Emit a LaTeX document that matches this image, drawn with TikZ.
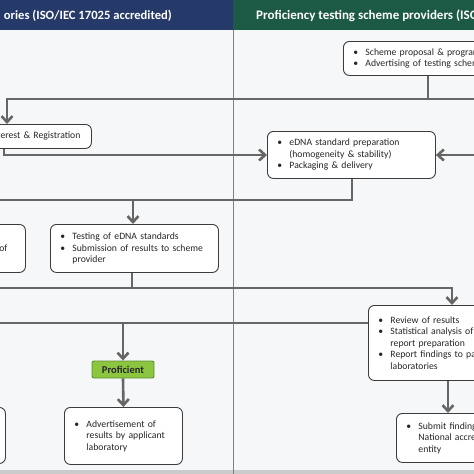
\documentclass[tikz,border=0pt]{standalone}
\usepackage{fontspec}
\setmainfont{Carlito}
\usetikzlibrary{arrows.meta}
\definecolor{hblue}{HTML}{263A6A}
\definecolor{hgreen}{HTML}{1C5A46}
\definecolor{bgc}{HTML}{F6F7F9}
\definecolor{conc}{HTML}{666666}
\definecolor{boxc}{HTML}{3C3C3C}
\definecolor{pgreen}{HTML}{8CC540}
\definecolor{pgreend}{HTML}{5E8F2E}
\definecolor{bandc}{HTML}{CBCBCB}
\definecolor{divc}{HTML}{808080}
\newcommand\bitem{\makebox[12pt][l]{\textbullet}}
\newcommand\bind{\hspace*{12pt}}
\begin{document}
\begin{tikzpicture}[x=1pt,y=-1pt,
 box/.style={draw=boxc, fill=white, rounded corners=6pt, line width=0.9pt, anchor=north west, inner xsep=10pt, inner ysep=0pt, align=left, font=\fontsize{9.7}{11.5}\selectfont, text=black!85},
 conn/.style={draw=conc, line width=2.6pt},
 arr/.style={-{Straight Barb[length=6pt,width=11pt]}},
 hdr/.style={text=white, inner sep=0pt}]
\useasboundingbox (0,0) rectangle (474,474);
\clip (0,0) rectangle (474,474);
\fill[bgc] (0,30) rectangle (474,470);
\fill[bandc] (0,470) rectangle (474,474);
\fill[hblue] (0,0) rectangle (233,30);
\fill[hgreen] (233,0) rectangle (474,30);
\draw[divc, line width=1pt] (233,30) -- (233,474);

\node[hdr, anchor=east, font=\fontsize{12.6}{14}\selectfont\bfseries] (hl) at (172,15.5) {ories (ISO/IEC 17025 accredited)};
\node[hdr, anchor=west, font=\fontsize{13}{14}\selectfont\bfseries] (hr) at (256,15.5) {Proficiency testing scheme providers (ISO};

\node[box, text width=250pt, minimum height=34pt] (tp) at (343,41) {\bitem Scheme proposal \& programme design\\\bitem Advertising of testing scheme};
\node[box, align=right, inner xsep=11pt, text width=169pt, minimum height=24pt] (reg) at (-100,124) {interest \& Registration};
\node[box, text width=148pt, minimum height=47pt] (ed) at (267,131) {\bitem eDNA standard preparation\\\bind (homogeneity \& stability)\\\bitem Packaging \& delivery};
\node[box, align=right, inner xsep=18pt, text width=109pt, minimum height=48pt] (lb) at (-120,224) {of};
\node[box, text width=148pt, minimum height=48pt] (ts) at (50,224) {\bitem Testing of eDNA standards\\\bitem Submission of results to scheme\\\bind provider};
\node[box, text width=250pt, minimum height=75pt] (rv) at (368,305) {\bitem Review of results\\\bitem Statistical analysis of results \&\\\bind report preparation\\\bitem Report findings to participating\\\bind laboratories};
\node[draw=pgreend, fill=pgreen, line width=0.9pt, rounded corners=2pt, minimum width=62pt, minimum height=17pt, inner sep=0pt, font=\fontsize{10.5}{12}\selectfont\bfseries, text=black!85] (pf) at (123,369.5) {Proficient};
\node[box, text width=98pt, minimum height=57pt] (adv) at (64,407) {\bitem Advertisement of\\\bind results by applicant\\\bind laboratory};
\node[box, text width=85pt, minimum height=56pt] (bl) at (-100,407) {};
\node[box, text width=250pt, minimum height=49pt] (sb) at (396,413) {\bitem Submit findings to the\\\bind National accreditation\\\bind entity};

\coordinate (j1) at (428,99);
\coordinate (j2) at (7,99);
\coordinate (eR) at (484,99);
\coordinate (j3) at (4,155);
\coordinate (eR2) at (484,155);
\coordinate (j4) at (352,200);
\coordinate (j5) at (-10,200);
\coordinate (j6) at (133,200);
\coordinate (j7) at (132,288);
\coordinate (j8) at (452,288);
\coordinate (j9) at (-10,288);
\coordinate (j10) at (-10,323);
\coordinate (j11) at (123,323);
\coordinate (j12) at (448,380);

\draw[conn] (j1 |- tp.south) -- (j1);
\draw[conn,arr] (eR) -- (j2) -- (reg.north -| j2);
\draw[conn,arr] (reg.south -| j3) -- (j3) -- (ed.west |- j3);
\draw[conn,arr] (eR2) -- (ed.east |- eR2);
\draw[conn] (j4 |- ed.south) -- (j4) -- (j5);
\draw[conn,arr] (j6) -- (ts.north -| j6);
\draw[conn] (j7 |- ts.south) -- (j7);
\draw[conn,arr] (j9) -- (j8) -- (rv.north -| j8);
\draw[conn] (rv.west |- j10) -- (j10);
\draw[conn,arr] (j11) -- (pf.north);
\draw[conn,arr] (pf.south) -- (adv.north);
\draw[conn,arr] (rv.south -| j12) -- (sb.north -| j12);
\end{tikzpicture}
\end{document}
